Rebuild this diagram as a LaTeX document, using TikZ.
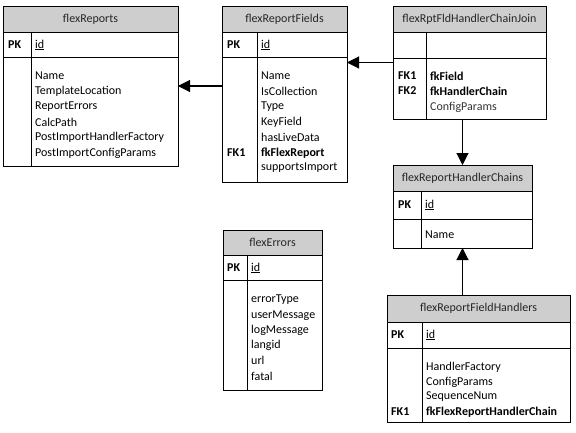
\documentclass[tikz,border=0pt]{standalone}
\usepackage{fontspec}
\setmainfont{Carlito}
\usetikzlibrary{arrows.meta}

\definecolor{hdrgray}{RGB}{206,206,206}

\tikzset{
	tbl/.style={draw, line width=0.7pt, anchor=north west, inner sep=0pt, outer sep=0pt},
	hdr/.style={tbl, fill=hdrgray, text=black!85},
	fld/.style={anchor=west, inner sep=0pt},
	key/.style={fld, font=\fontsize{12}{14}\selectfont\bfseries},
	fk/.style={line width=1.1pt, -{Triangle[length=12pt,width=12pt]}}
}

\begin{document}
\begin{tikzpicture}[x=1pt, y=-1pt, font=\fontsize{12}{14}\selectfont]
	\useasboundingbox (0,0) rectangle (576,432);

	%flexReports
	\node[tbl, minimum width=175, minimum height=160] (reports) at (3,6) {};
	\node[hdr, minimum width=175, minimum height=26] (reportsHead) at (3,6) {flexReports};
	\draw[line width=0.7pt] (3,57) -- (178,57);
	\draw[line width=0.7pt] (31,32) -- (31,166);
	\node[key] (reportsPK) at (8,45) {PK};
	\node[fld] (reportsId) at (35,45) {\underline{id}};
	\foreach \t [count=\i] in {Name, TemplateLocation, ReportErrors, CalcPath, PostImportHandlerFactory, PostImportConfigParams}{
		\node[fld] (reports\i) at (35, 60.5+15.4*\i) {\t};
	}

	%flexReportFields
	\node[tbl, minimum width=125, minimum height=176] (fields) at (222,6) {};
	\node[hdr, minimum width=125, minimum height=26] (fieldsHead) at (222,6) {flexReportFields};
	\draw[line width=0.7pt] (222,57) -- (347,57);
	\draw[line width=0.7pt] (257,32) -- (257,182);
	\node[key] (fieldsPK) at (227,45) {PK};
	\node[fld] (fieldsId) at (261,45) {\underline{id}};
	\foreach \t [count=\i] in {Name, IsCollection, Type, KeyField, hasLiveData}{
		\node[fld] (fields\i) at (261, 60.5+15.4*\i) {\t};
	}
	\node[key] (fieldsFK) at (227,153) {FK1};
	\node[key] (fields6) at (261,153) {fkFlexReport};
	\node[fld] (fields7) at (261,168) {supportsImport};

	%flexRptFldHandlerChainJoin
	\node[tbl, minimum width=153, minimum height=113] (join) at (393,6) {};
	\node[hdr, minimum width=153, minimum height=26] (joinHead) at (393,6) {flexRptFldHandlerChainJoin};
	\draw[line width=0.7pt] (393,58) -- (546,58);
	\draw[line width=0.7pt] (426,32) -- (426,119);
	\node[key] (joinFKa) at (398,76) {FK1};
	\node[key] (join1) at (430,76) {fkField};
	\node[key] (joinFKb) at (398,91) {FK2};
	\node[key] (join2) at (430,91) {fkHandlerChain};
	\node[fld, text=black!80] (join3) at (430,107) {ConfigParams};

	%flexReportHandlerChains
	\node[tbl, minimum width=139, minimum height=83] (chains) at (393,165) {};
	\node[hdr, minimum width=139, minimum height=26] (chainsHead) at (393,165) {flexReportHandlerChains};
	\draw[line width=0.7pt] (393,219) -- (532,219);
	\draw[line width=0.7pt] (421,191) -- (421,248);
	\node[key] (chainsPK) at (398,205) {PK};
	\node[fld] (chainsId) at (425,205) {\underline{id}};
	\node[fld] (chains1) at (425,235) {Name};

	%flexErrors
	\node[tbl, minimum width=99, minimum height=160] (errors) at (223,230) {};
	\node[hdr, minimum width=99, minimum height=25] (errorsHead) at (223,230) {flexErrors};
	\draw[line width=0.7pt] (223,280) -- (322,280);
	\draw[line width=0.7pt] (247,255) -- (247,390);
	\node[key] (errorsPK) at (227,268) {PK};
	\node[fld] (errorsId) at (251,268) {\underline{id}};
	\foreach \t [count=\i] in {errorType, userMessage, logMessage, langid, url, fatal}{
		\node[fld] (errors\i) at (251, 284.8+15.2*\i) {\t};
	}

	%flexReportFieldHandlers
	\node[tbl, minimum width=183, minimum height=127] (handlers) at (387,295) {};
	\node[hdr, minimum width=183, minimum height=27] (handlersHead) at (387,295) {flexReportFieldHandlers};
	\draw[line width=0.7pt] (387,348) -- (570,348);
	\draw[line width=0.7pt] (422,322) -- (422,422);
	\node[key] (handlersPK) at (391,335) {PK};
	\node[fld] (handlersId) at (426,335) {\underline{id}};
	\foreach \t [count=\i] in {HandlerFactory, ConfigParams, SequenceNum}{
		\node[fld] (handlers\i) at (426, 352+15*\i) {\t};
	}
	\node[key] (handlersFK) at (391,412) {FK1};
	\node[key] (handlers4) at (426,412) {fkFlexReportHandlerChain};

	%relations
	\draw[fk] (fields.west |- reports.east) -- (reports.east);
	\draw[fk] (join.west) -- (join.west -| fields.east);
	\draw[fk] (chains.north |- join.south) -- (chains.north);
	\draw[fk] (chains.south |- handlers.north) -- (chains.south);
\end{tikzpicture}
\end{document}
